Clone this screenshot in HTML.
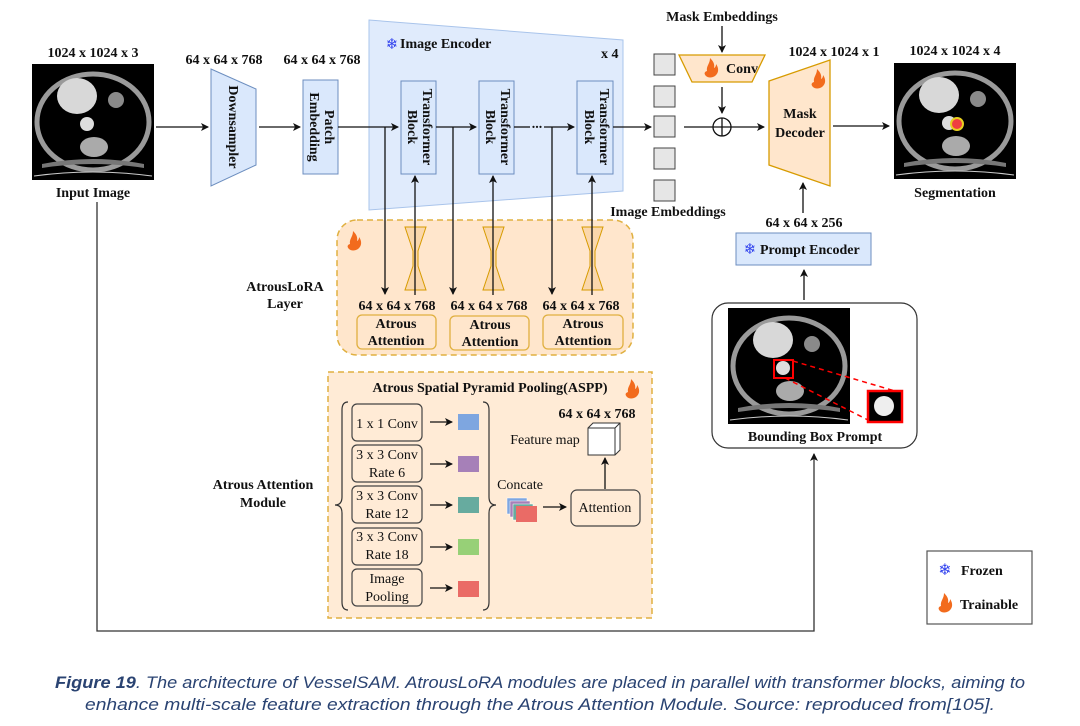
<!DOCTYPE html>
<html><head><meta charset="utf-8"><style>
html,body{margin:0;padding:0;background:#fff;}
svg{display:block;}
.t{font-family:"Liberation Serif",serif;font-size:14px;fill:#111;}
.b{font-weight:bold;}
</style></head><body>
<svg width="1080" height="726" viewBox="0 0 1080 726" xmlns="http://www.w3.org/2000/svg">
<defs>
<marker id="ah" markerWidth="8" markerHeight="8" refX="7" refY="4" orient="auto" markerUnits="userSpaceOnUse">
<path d="M0,0 L8,4 L0,8 L2,4 z" fill="#111"/></marker>
<g id="ct">
<rect x="0" y="0" width="122" height="116" fill="#000"/>
<ellipse cx="61" cy="58" rx="56" ry="48" fill="none" stroke="#9a9a9a" stroke-width="5"/>
<ellipse cx="45" cy="32" rx="20" ry="18" fill="#d8d8d8"/>
<circle cx="84" cy="36" r="8" fill="#8a8a8a"/>
<circle cx="55" cy="60" r="7" fill="#ddd"/>
<ellipse cx="62" cy="83" rx="14" ry="10" fill="#aaa"/>
<path d="M10,100 Q61,90 112,100 L112,104 Q61,96 10,104 z" fill="#777"/>
<path d="M2,112 Q61,104 120,112" stroke="#ccc" fill="none"/>
</g>
<g id="flame"><path d="M0,10 C-1,5 3,3 3,-3 C6,0 8,3 7,7 C9,6 9,4 9,3 C12,7 12,12 8,15 C5,17 1,17 -1,15 C-3,13 -3,11 0,10 z" fill="#f26b1d"/></g>
</defs>

<text class="t b" x="93" y="57" text-anchor="middle">1024 x 1024 x 3</text>
<use href="#ct" x="32" y="64"/>
<text class="t b" x="93" y="197" text-anchor="middle">Input Image</text>
<line x1="156" y1="127" x2="208" y2="127" stroke="#111" stroke-width="1.3" marker-end="url(#ah)"/>

<text class="t b" x="224" y="64" text-anchor="middle">64 x 64 x 768</text>
<polygon points="211,69 256,89 256,165 211,186" fill="#dae8fc" stroke="#6c8ebf"/>
<text class="t b" x="233" y="127" text-anchor="middle" transform="rotate(90 233 127)" dy="4">Downsampler</text>
<line x1="259" y1="127" x2="300" y2="127" stroke="#111" stroke-width="1.3" marker-end="url(#ah)"/>

<text class="t b" x="322" y="64" text-anchor="middle">64 x 64 x 768</text>
<rect x="303" y="80" width="35" height="94" fill="#dae8fc" stroke="#6c8ebf"/>
<g transform="rotate(90 320 127)"><text class="t b" x="320" y="122" text-anchor="middle">Patch</text><text class="t b" x="320" y="137" text-anchor="middle">Embedding</text></g>

<polygon points="369,20 623,40 623,191 369,210" fill="#dae8fc" fill-opacity="0.85" stroke="#a9c4eb"/>
<text x="392" y="49" font-size="15" fill="#3344ee" text-anchor="middle" font-family="DejaVu Sans">❄</text>
<text class="t b" x="400" y="48">Image Encoder</text>
<text class="t b" x="601" y="58">x 4</text>

<rect x="401" y="81" width="35" height="93" fill="#dae8fc" stroke="#6c8ebf"/>
<g transform="rotate(90 418 127)"><text class="t b" x="418" y="122" text-anchor="middle">Transformer</text><text class="t b" x="418" y="137" text-anchor="middle">Block</text></g>
<rect x="479" y="81" width="35" height="93" fill="#dae8fc" stroke="#6c8ebf"/>
<g transform="rotate(90 496 127)"><text class="t b" x="496" y="122" text-anchor="middle">Transformer</text><text class="t b" x="496" y="137" text-anchor="middle">Block</text></g>
<rect x="577" y="81" width="36" height="93" fill="#dae8fc" stroke="#6c8ebf"/>
<g transform="rotate(90 595 127)"><text class="t b" x="595" y="122" text-anchor="middle">Transformer</text><text class="t b" x="595" y="137" text-anchor="middle">Block</text></g>
<g stroke="#111" stroke-width="1.3" fill="none">
<line x1="338" y1="127" x2="398" y2="127" marker-end="url(#ah)"/>
<line x1="436" y1="127" x2="476" y2="127" marker-end="url(#ah)"/>
<line x1="514" y1="127" x2="530" y2="127"/>
<line x1="544" y1="127" x2="574" y2="127" marker-end="url(#ah)"/>
<line x1="613" y1="127" x2="651" y2="127" marker-end="url(#ah)"/>
</g>
<text class="t b" x="537" y="128" text-anchor="middle">...</text>

<rect x="337" y="220" width="296" height="135" rx="20" fill="#ffe6cc" stroke="#e0b040" stroke-width="1.5" stroke-dasharray="6,4"/>
<use href="#flame" x="350" y="234"/>
<text class="t b" x="285" y="291" text-anchor="middle">AtrousLoRA</text>
<text class="t b" x="285" y="308" text-anchor="middle">Layer</text>

<g fill="#fad7ac" stroke="#d79b00" stroke-width="1">
<polygon points="405,227 426,227 418,251 418,266 426,290 405,290 413,266 413,251"/>
<polygon points="483,227 504,227 496,251 496,266 504,290 483,290 491,266 491,251"/>
<polygon points="582,227 603,227 595,251 595,266 603,290 582,290 590,266 590,251"/>
</g>
<g stroke="#111" stroke-width="1.3" fill="none">
<line x1="385" y1="127" x2="385" y2="294" marker-end="url(#ah)"/>
<line x1="453" y1="127" x2="453" y2="294" marker-end="url(#ah)"/>
<line x1="552" y1="127" x2="552" y2="294" marker-end="url(#ah)"/>
<line x1="415" y1="295" x2="415" y2="176" marker-end="url(#ah)"/>
<line x1="493" y1="295" x2="493" y2="176" marker-end="url(#ah)"/>
<line x1="592" y1="295" x2="592" y2="176" marker-end="url(#ah)"/>
</g>
<text class="t b" x="397" y="310" text-anchor="middle">64 x 64 x 768</text>
<text class="t b" x="489" y="310" text-anchor="middle">64 x 64 x 768</text>
<text class="t b" x="581" y="310" text-anchor="middle">64 x 64 x 768</text>
<g fill="#ffe6cc" stroke="#e0b040" stroke-width="1.3">
<rect x="357" y="315" width="79" height="34" rx="5"/>
<rect x="450" y="316" width="79" height="34" rx="5"/>
<rect x="543" y="315" width="80" height="34" rx="5"/>
</g>
<text class="t b" x="396" y="328" text-anchor="middle">Atrous</text><text class="t b" x="396" y="345" text-anchor="middle">Attention</text>
<text class="t b" x="490" y="329" text-anchor="middle">Atrous</text><text class="t b" x="490" y="346" text-anchor="middle">Attention</text>
<text class="t b" x="583" y="328" text-anchor="middle">Atrous</text><text class="t b" x="583" y="345" text-anchor="middle">Attention</text>

<g fill="#e6e6e6" stroke="#444">
<rect x="654" y="54" width="21" height="21"/><rect x="654" y="86" width="21" height="21"/>
<rect x="654" y="116" width="21" height="21"/><rect x="654" y="148" width="21" height="21"/>
<rect x="654" y="180" width="21" height="21"/>
</g>
<text class="t b" x="668" y="216" text-anchor="middle">Image Embeddings</text>

<text class="t b" x="722" y="21" text-anchor="middle">Mask Embeddings</text>
<polygon points="679,55 765,55 752,82 692,82" fill="#ffe6cc" stroke="#d79b00" stroke-width="1.3"/>
<use href="#flame" x="707" y="61"/>
<text class="t b" x="742" y="73" text-anchor="middle">Conv</text>
<g stroke="#111" stroke-width="1.3" fill="none">
<line x1="722" y1="26" x2="722" y2="52" marker-end="url(#ah)"/>
<line x1="722" y1="87" x2="722" y2="113" marker-end="url(#ah)"/>
<circle cx="722" cy="127" r="9"/>
<line x1="713" y1="127" x2="731" y2="127"/><line x1="722" y1="118" x2="722" y2="136"/>
<line x1="684" y1="127" x2="713" y2="127"/>
<line x1="731" y1="127" x2="764" y2="127" marker-end="url(#ah)"/>
</g>

<text class="t b" x="834" y="56" text-anchor="middle">1024 x 1024 x 1</text>
<polygon points="769,81 830,60 830,186 769,165" fill="#ffe6cc" stroke="#d79b00" stroke-width="1.3"/>
<use href="#flame" x="814" y="72"/>
<text class="t b" x="800" y="118" text-anchor="middle">Mask</text>
<text class="t b" x="800" y="137" text-anchor="middle">Decoder</text>
<line x1="833" y1="126" x2="889" y2="126" stroke="#111" stroke-width="1.3" marker-end="url(#ah)"/>

<text class="t b" x="955" y="55" text-anchor="middle">1024 x 1024 x 4</text>
<use href="#ct" x="894" y="63"/>
<circle cx="957" cy="124" r="6" fill="#f04040" stroke="#e8d020" stroke-width="2"/>
<text class="t b" x="955" y="197" text-anchor="middle">Segmentation</text>

<line x1="803" y1="213" x2="803" y2="183" stroke="#111" stroke-width="1.3" marker-end="url(#ah)"/>
<text class="t b" x="804" y="227" text-anchor="middle">64 x 64 x 256</text>
<rect x="736" y="233" width="135" height="32" fill="#dae8fc" stroke="#6c8ebf"/>
<text x="750" y="254" font-size="15" fill="#3344ee" text-anchor="middle" font-family="DejaVu Sans">❄</text>
<text class="t b" x="760" y="254">Prompt Encoder</text>
<line x1="804" y1="300" x2="804" y2="270" stroke="#111" stroke-width="1.3" marker-end="url(#ah)"/>

<rect x="712" y="303" width="205" height="145" rx="16" fill="#fff" stroke="#333" stroke-width="1.2"/>
<use href="#ct" x="728" y="308"/>
<rect x="774" y="360" width="19" height="18" fill="none" stroke="#f00" stroke-width="2"/>
<line x1="793" y1="361" x2="895" y2="391" stroke="#f00" stroke-width="1.5" stroke-dasharray="5,4"/>
<line x1="785" y1="378" x2="868" y2="420" stroke="#f00" stroke-width="1.5" stroke-dasharray="5,4"/>
<rect x="868" y="391" width="34" height="31" fill="#000" stroke="#f00" stroke-width="2.5"/>
<circle cx="884" cy="406" r="10" fill="#eee"/>
<text class="t b" x="815" y="441" text-anchor="middle">Bounding Box Prompt</text>

<polyline points="97,202 97,631 814,631 814,454" fill="none" stroke="#333" stroke-width="1.3" marker-end="url(#ah)"/>

<rect x="328" y="372" width="324" height="246" fill="#ffe6cc" fill-opacity="0.8" stroke="#e0b040" stroke-width="1.5" stroke-dasharray="6,4"/>
<text class="t b" x="490" y="392" text-anchor="middle">Atrous Spatial Pyramid Pooling(ASPP)</text>
<use href="#flame" x="628" y="382"/>
<text class="t b" x="263" y="489" text-anchor="middle">Atrous Attention</text>
<text class="t b" x="263" y="507" text-anchor="middle">Module</text>
<path d="M348,402 Q342,402 342,410 L342,497 Q342,505 335,505 Q342,505 342,513 L342,602 Q342,610 348,610" fill="none" stroke="#333" stroke-width="1.2"/>
<path d="M483,402 Q489,402 489,410 L489,497 Q489,505 496,505 Q489,505 489,513 L489,602 Q489,610 483,610" fill="none" stroke="#333" stroke-width="1.2"/>
<g fill="none" stroke="#444" stroke-width="1.2">
<rect x="352" y="404" width="70" height="37" rx="5"/>
<rect x="352" y="445" width="70" height="37" rx="5"/>
<rect x="352" y="486" width="70" height="37" rx="5"/>
<rect x="352" y="528" width="70" height="37" rx="5"/>
<rect x="352" y="569" width="70" height="37" rx="5"/>
</g>
<text class="t" x="387" y="428" text-anchor="middle">1 x 1 Conv</text>
<text class="t" x="387" y="459" text-anchor="middle">3 x 3 Conv</text><text class="t" x="387" y="477" text-anchor="middle">Rate 6</text>
<text class="t" x="387" y="500" text-anchor="middle">3 x 3 Conv</text><text class="t" x="387" y="518" text-anchor="middle">Rate 12</text>
<text class="t" x="387" y="541" text-anchor="middle">3 x 3 Conv</text><text class="t" x="387" y="559" text-anchor="middle">Rate 18</text>
<text class="t" x="387" y="583" text-anchor="middle">Image</text><text class="t" x="387" y="601" text-anchor="middle">Pooling</text>
<g stroke="#111" stroke-width="1.3">
<line x1="430" y1="422" x2="452" y2="422" marker-end="url(#ah)"/>
<line x1="430" y1="464" x2="452" y2="464" marker-end="url(#ah)"/>
<line x1="430" y1="505" x2="452" y2="505" marker-end="url(#ah)"/>
<line x1="430" y1="547" x2="452" y2="547" marker-end="url(#ah)"/>
<line x1="430" y1="588" x2="452" y2="588" marker-end="url(#ah)"/>
</g>
<rect x="458" y="414" width="21" height="16" fill="#7ea6e0"/>
<rect x="458" y="456" width="21" height="16" fill="#a680b8"/>
<rect x="458" y="497" width="21" height="16" fill="#67ab9f"/>
<rect x="458" y="539" width="21" height="16" fill="#97d077"/>
<rect x="458" y="581" width="21" height="16" fill="#ea6b66"/>
<text class="t" x="520" y="489" text-anchor="middle">Concate</text>
<rect x="507" y="498" width="20" height="16" fill="#7ea6e0" stroke="#fff" stroke-width="0.5"/>
<rect x="510" y="501" width="20" height="16" fill="#a680b8" stroke="#fff" stroke-width="0.5"/>
<rect x="513" y="504" width="20" height="16" fill="#67ab9f" stroke="#fff" stroke-width="0.5"/>
<rect x="516" y="506" width="21" height="16" fill="#ea6b66"/>
<line x1="543" y1="507" x2="566" y2="507" stroke="#111" stroke-width="1.3" marker-end="url(#ah)"/>
<rect x="571" y="490" width="69" height="36" rx="6" fill="none" stroke="#444" stroke-width="1.2"/>
<text class="t" x="605" y="512" text-anchor="middle">Attention</text>
<line x1="605" y1="489" x2="605" y2="458" stroke="#111" stroke-width="1.3" marker-end="url(#ah)"/>
<text class="t b" x="597" y="418" text-anchor="middle">64 x 64 x 768</text>
<text class="t" x="545" y="444" text-anchor="middle">Feature map</text>
<polygon points="588,428 593,423 620,423 620,450 615,455 588,455" fill="#fff" stroke="#333"/>
<polyline points="588,428 615,428 615,455" fill="none" stroke="#333"/>
<line x1="615" y1="428" x2="620" y2="423" stroke="#333"/>

<rect x="927" y="551" width="105" height="73" fill="#fff" stroke="#555" stroke-width="1.2"/>
<text x="945" y="575" font-size="16" fill="#3344ee" text-anchor="middle" font-family="DejaVu Sans">❄</text>
<text class="t b" x="961" y="575">Frozen</text>
<use href="#flame" x="941" y="596"/>
<text class="t b" x="960" y="609">Trainable</text>

<text x="540" y="688" text-anchor="middle" font-family="Liberation Sans, sans-serif" font-size="17" font-style="italic" fill="#2a4372" textLength="970" lengthAdjust="spacingAndGlyphs"><tspan font-weight="bold">Figure 19</tspan>. The architecture of VesselSAM. AtrousLoRA modules are placed in parallel with transformer blocks, aiming to</text>
<text x="540" y="710" text-anchor="middle" font-family="Liberation Sans, sans-serif" font-size="17" font-style="italic" fill="#2a4372" textLength="910" lengthAdjust="spacingAndGlyphs">enhance multi-scale feature extraction through the Atrous Attention Module. Source: reproduced from[105].</text>
</svg>
</body></html>
